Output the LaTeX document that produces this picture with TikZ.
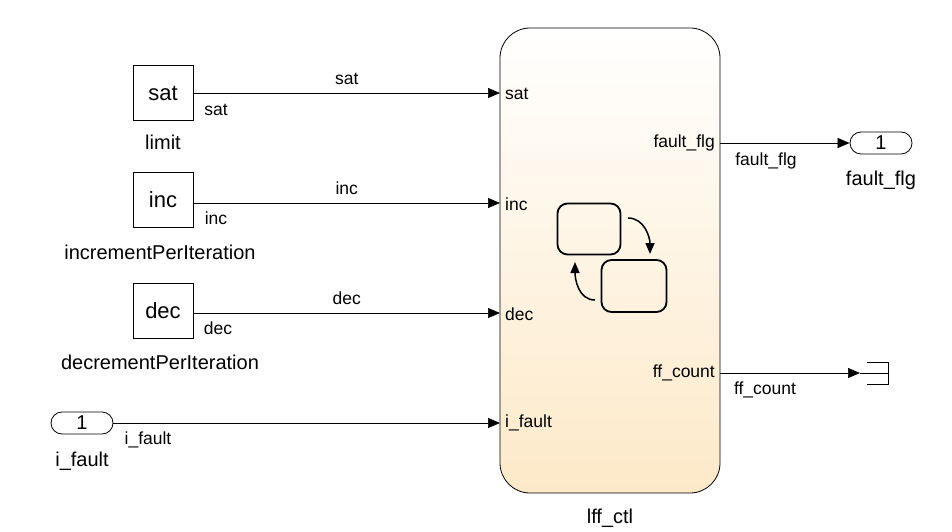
\documentclass[tikz,border=0pt]{standalone}
\usepackage{fontspec}
\setmainfont{Liberation Sans}
\usetikzlibrary{arrows.meta,shadings}
\begin{document}
\begin{tikzpicture}[x=1pt,y=-1pt,
  txt/.style={font=\fontsize{20}{22}\selectfont,inner sep=0pt},
  lbl/.style={font=\fontsize{17.5}{19}\selectfont,inner sep=0pt},
  blk/.style={draw,line width=0.8pt,minimum width=60pt,minimum height=55pt,font=\fontsize{22}{24}\selectfont},
  port/.style={draw,line width=0.8pt,rounded corners=11pt,minimum width=62pt,minimum height=22pt,font=\fontsize{20}{22}\selectfont,inner sep=0pt},
  sig/.style={line width=0.7pt,-{Triangle[length=12pt,width=10pt]}},
  st/.style={draw,line width=1.8pt,rounded corners=10pt}]
\useasboundingbox (0,0) rectangle (952,532);
\definecolor{chartbot}{RGB}{253,233,200}
\shade[top color=white,bottom color=chartbot,rounded corners=30pt] (500,28) rectangle (720,493);
\draw[line width=0.8pt,rounded corners=30pt] (500,28) rectangle (720,493);
\node[txt] (chartname) at (610,518) {lff\_ctl};
\coordinate (csat) at (500,93);
\coordinate (cinc) at (500,203);
\coordinate (cdec) at (500,313);
\coordinate (cif) at (500,423);
\coordinate (cff) at (720,143);
\coordinate (ccnt) at (720,373);
\node[lbl,anchor=west] (psat) at (505,94) {sat};
\node[lbl,anchor=west] (pinc) at (505,204) {inc};
\node[lbl,anchor=west] (pdec) at (505,314) {dec};
\node[lbl,anchor=west] (pif) at (505,423) {i\_fault};
\node[lbl,anchor=east] (pff) at (715,143) {fault\_flg};
\node[lbl,anchor=east] (pcnt) at (715,373) {ff\_count};
% blocks
\node[blk] (sat) at (163,93) {sat};
\node[txt] (satn) at (163,142) {limit};
\node[lbl] (sato) at (216,110) {sat};
\node[blk] (inc) at (163,200) {inc};
\node[txt] (incn) at (160,252) {incrementPerIteration};
\node[lbl] (inco) at (216,218) {inc};
\node[blk] (dec) at (163,311) {dec};
\node[txt] (decn) at (160,362) {decrementPerIteration};
\node[lbl] (deco) at (218,328) {dec};
\node[port] (ifp) at (82,423) {1};
\node[txt] (ifn) at (82,461) {i\_fault};
\node[lbl] (ifo) at (148,440) {i\_fault};
\draw[sig] (sat.east|-csat) -- (csat) node[lbl,midway,above=8pt] {sat};
\draw[sig] (inc.east|-cinc) -- (cinc) node[lbl,midway,above=8pt] {inc};
\draw[sig] (dec.east|-cdec) -- (cdec) node[lbl,midway,above=8pt] {dec};
\draw[sig] (ifp.east) -- (cif);
% outputs
\node[port] (ffp) at (881,143) {1};
\node[txt] (ffn) at (881,180) {fault\_flg};
\node[lbl] (ffo) at (766,161) {fault\_flg};
\draw[sig] (cff) -- (ffp.west);
\coordinate (term) at (860,373);
\draw[line width=0.8pt] (term) -- (888,373) (867,362) -- (888,362) -- (888,384) -- (867,384);
\draw[sig] (ccnt) -- (term);
\node[lbl] (cnto) at (765,390) {ff\_count};
% stateflow icon
\node[st,minimum width=63pt,minimum height=51pt] (s1) at (589,229) {};
\node[st,minimum width=65pt,minimum height=52pt] (s2) at (634,286) {};
\draw[line width=1.5pt,-{Triangle[length=11pt,width=9pt]}] (628,218) to[out=0,in=90] (650,254);
\draw[line width=1.5pt,-{Triangle[length=11pt,width=9pt]}] (595,300) to[out=180,in=-90] (575,262);
\end{tikzpicture}
\end{document}
